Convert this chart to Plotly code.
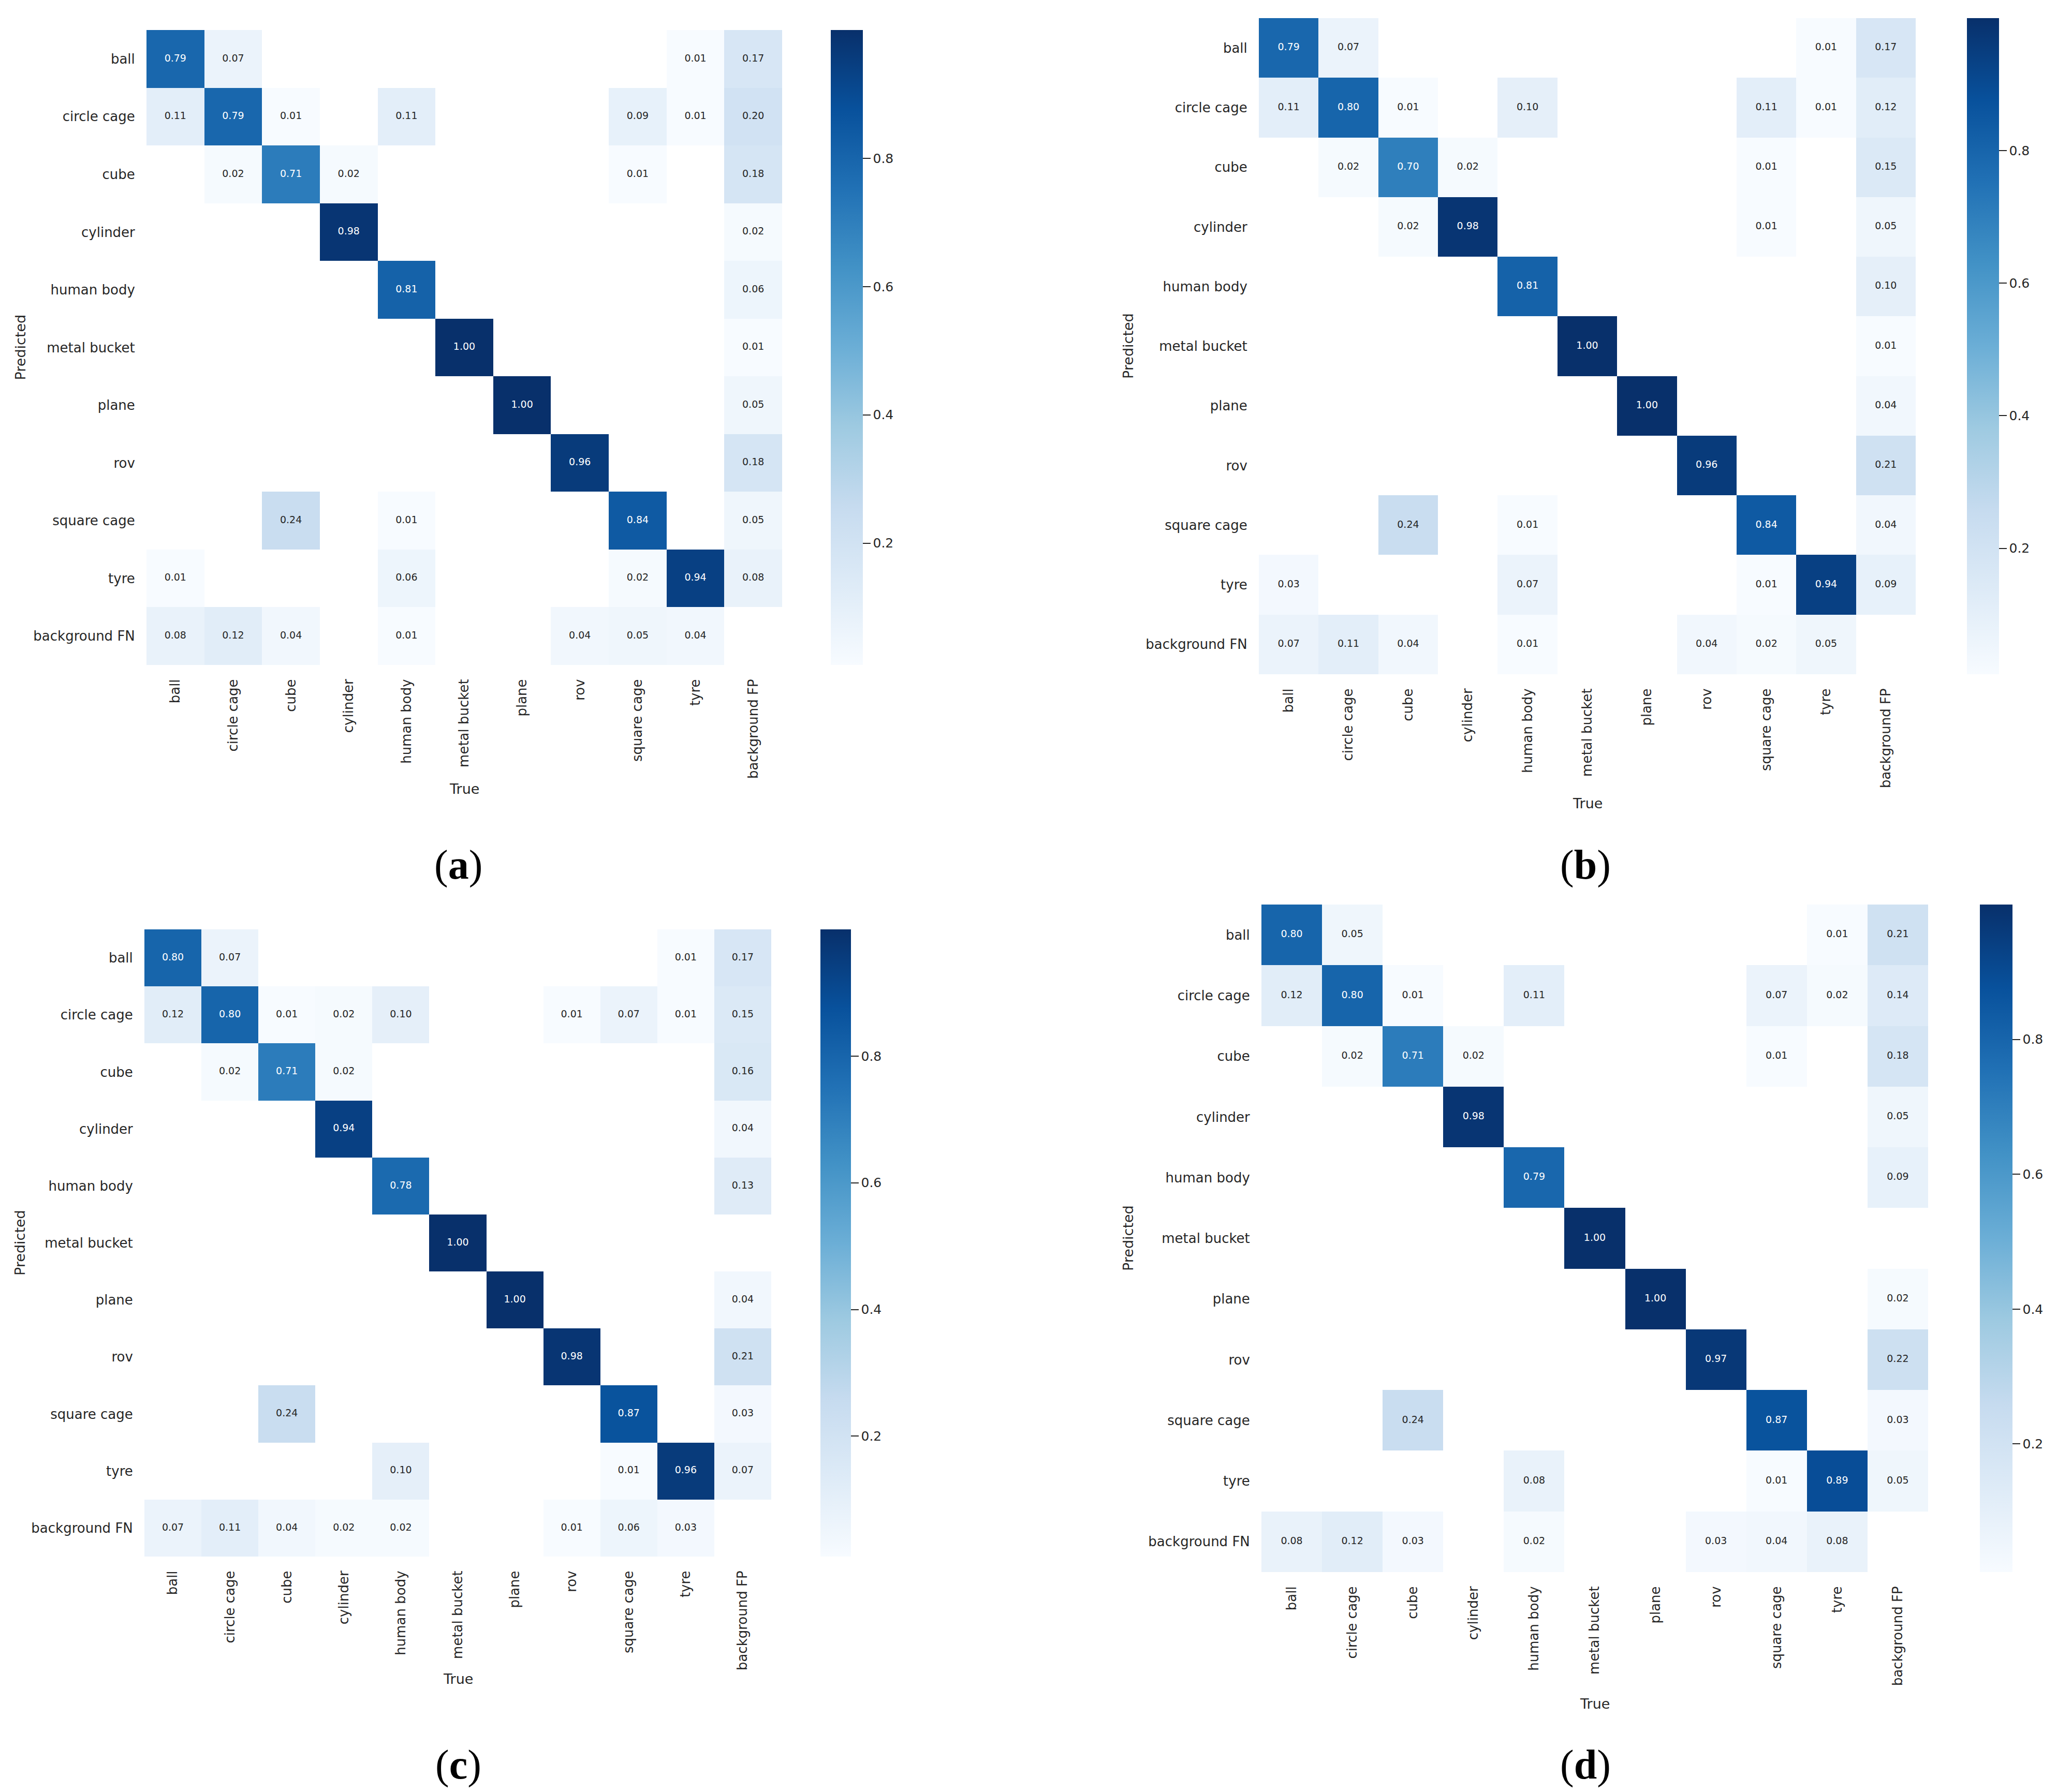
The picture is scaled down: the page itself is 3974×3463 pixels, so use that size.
import plotly.graph_objects as go

W, H = 3974, 3463

# class names (rows = predicted, columns = true)
classes_pred = ["ball", "circle cage", "cube", "cylinder", "human body", "metal bucket",
                "plane", "rov", "square cage", "tyre", "background FN"]
classes_true = ["ball", "circle cage", "cube", "cylinder", "human body", "metal bucket",
                "plane", "rov", "square cage", "tyre", "background FP"]
_ = None

cm_a = [
    [0.79, 0.07, _, _, _, _, _, _, _, 0.01, 0.17],
    [0.11, 0.79, 0.01, _, 0.11, _, _, _, 0.09, 0.01, 0.20],
    [_, 0.02, 0.71, 0.02, _, _, _, _, 0.01, _, 0.18],
    [_, _, _, 0.98, _, _, _, _, _, _, 0.02],
    [_, _, _, _, 0.81, _, _, _, _, _, 0.06],
    [_, _, _, _, _, 1.00, _, _, _, _, 0.01],
    [_, _, _, _, _, _, 1.00, _, _, _, 0.05],
    [_, _, _, _, _, _, _, 0.96, _, _, 0.18],
    [_, _, 0.24, _, 0.01, _, _, _, 0.84, _, 0.05],
    [0.01, _, _, _, 0.06, _, _, _, 0.02, 0.94, 0.08],
    [0.08, 0.12, 0.04, _, 0.01, _, _, 0.04, 0.05, 0.04, _],
]

cm_b = [
    [0.79, 0.07, _, _, _, _, _, _, _, 0.01, 0.17],
    [0.11, 0.80, 0.01, _, 0.10, _, _, _, 0.11, 0.01, 0.12],
    [_, 0.02, 0.70, 0.02, _, _, _, _, 0.01, _, 0.15],
    [_, _, 0.02, 0.98, _, _, _, _, 0.01, _, 0.05],
    [_, _, _, _, 0.81, _, _, _, _, _, 0.10],
    [_, _, _, _, _, 1.00, _, _, _, _, 0.01],
    [_, _, _, _, _, _, 1.00, _, _, _, 0.04],
    [_, _, _, _, _, _, _, 0.96, _, _, 0.21],
    [_, _, 0.24, _, 0.01, _, _, _, 0.84, _, 0.04],
    [0.03, _, _, _, 0.07, _, _, _, 0.01, 0.94, 0.09],
    [0.07, 0.11, 0.04, _, 0.01, _, _, 0.04, 0.02, 0.05, _],
]

cm_c = [
    [0.80, 0.07, _, _, _, _, _, _, _, 0.01, 0.17],
    [0.12, 0.80, 0.01, 0.02, 0.10, _, _, 0.01, 0.07, 0.01, 0.15],
    [_, 0.02, 0.71, 0.02, _, _, _, _, _, _, 0.16],
    [_, _, _, 0.94, _, _, _, _, _, _, 0.04],
    [_, _, _, _, 0.78, _, _, _, _, _, 0.13],
    [_, _, _, _, _, 1.00, _, _, _, _, _],
    [_, _, _, _, _, _, 1.00, _, _, _, 0.04],
    [_, _, _, _, _, _, _, 0.98, _, _, 0.21],
    [_, _, 0.24, _, _, _, _, _, 0.87, _, 0.03],
    [_, _, _, _, 0.10, _, _, _, 0.01, 0.96, 0.07],
    [0.07, 0.11, 0.04, 0.02, 0.02, _, _, 0.01, 0.06, 0.03, _],
]

cm_d = [
    [0.80, 0.05, _, _, _, _, _, _, _, 0.01, 0.21],
    [0.12, 0.80, 0.01, _, 0.11, _, _, _, 0.07, 0.02, 0.14],
    [_, 0.02, 0.71, 0.02, _, _, _, _, 0.01, _, 0.18],
    [_, _, _, 0.98, _, _, _, _, _, _, 0.05],
    [_, _, _, _, 0.79, _, _, _, _, _, 0.09],
    [_, _, _, _, _, 1.00, _, _, _, _, _],
    [_, _, _, _, _, _, 1.00, _, _, _, 0.02],
    [_, _, _, _, _, _, _, 0.97, _, _, 0.22],
    [_, _, 0.24, _, _, _, _, _, 0.87, _, 0.03],
    [_, _, _, _, 0.08, _, _, _, 0.01, 0.89, 0.05],
    [0.08, 0.12, 0.03, _, 0.02, _, _, 0.03, 0.04, 0.08, _],
]

panel_labels = ["a", "b", "c", "d"]
cbar_ticks = [0.2, 0.4, 0.6, 0.8]

# matplotlib "Blues"
blues = ["#f7fbff", "#deebf7", "#c6dbef", "#9ecae1", "#6baed6",
         "#4292c6", "#2171b5", "#08519c", "#08306b"]
colorscale = [[i / (len(blues) - 1), c] for i, c in enumerate(blues)]

# pixel geometry of each panel: heatmap box, colorbar, label positions
geom = [
    dict(l=275, r=1503, t=50, b=1277, cb=1597, cw=62, px=31, ty=1517, cx=877, cy=1663),
    dict(l=2424, r=3693, t=27, b=1295, cb=3792, cw=62, px=2171, ty=1544, cx=3055, cy=1663),
    dict(l=271, r=1482, t=1788, b=3000, cb=1577, cw=59, px=30, ty=3236, cx=877, cy=3402),
    dict(l=2429, r=3717, t=1740, b=3030, cb=3817, cw=63, px=2171, ty=3284, cx=3055, cy=3402),
]

TXT = "#262626"
FONT = "DejaVu Sans"

fig = go.Figure()
annotations = []

for k, (cm, g, lab) in enumerate(zip([cm_a, cm_b, cm_c, cm_d], geom, panel_labels)):
    n = k + 1
    xa = "x" if n == 1 else f"x{n}"
    ya = "y" if n == 1 else f"y{n}"
    flat = [v for row in cm for v in row if v is not None]

    fig.add_trace(go.Heatmap(
        z=cm, x=classes_true, y=classes_pred, xaxis=xa, yaxis=ya,
        colorscale=colorscale, zmin=min(flat), zmax=max(flat),
        hoverongaps=False,
        colorbar=dict(
            x=g["cb"] / W, xanchor="left", xpad=0,
            y=1 - g["t"] / H, yanchor="top", ypad=0,
            thickness=g["cw"], thicknessmode="pixels",
            len=g["b"] - g["t"], lenmode="pixels",
            outlinewidth=0,
            tickvals=cbar_ticks, ticktext=[f"{v:.1f}" for v in cbar_ticks],
            ticks="outside", ticklen=15, tickwidth=2, tickcolor=TXT,
            tickfont=dict(family=FONT, size=25, color=TXT),
        ),
    ))

    xs, ys, ts, cs = [], [], [], []
    for i, row in enumerate(cm):
        for j, v in enumerate(row):
            if v is None:
                continue
            xs.append(classes_true[j])
            ys.append(classes_pred[i])
            ts.append(f"{v:.2f}")
            cs.append("white" if v > 0.5 else TXT)
    fig.add_trace(go.Scatter(
        x=xs, y=ys, text=ts, mode="text", xaxis=xa, yaxis=ya,
        textfont=dict(family=FONT, size=19, color=cs),
        hoverinfo="skip", showlegend=False,
    ))

    xkey = "xaxis" if n == 1 else f"xaxis{n}"
    ykey = "yaxis" if n == 1 else f"yaxis{n}"
    fig.update_layout(**{
        xkey: dict(
            domain=[g["l"] / W, g["r"] / W], anchor=ya,
            type="category", categoryorder="array", categoryarray=classes_true,
            range=[-0.5, len(classes_true) - 0.5],
            tickangle=-90, showgrid=False, zeroline=False, showline=False,
            ticks="outside", ticklen=16, tickcolor="rgba(0,0,0,0)",
            tickfont=dict(family=FONT, size=26, color=TXT),
        ),
        ykey: dict(
            domain=[1 - g["b"] / H, 1 - g["t"] / H], anchor=xa,
            type="category", categoryorder="array", categoryarray=classes_pred,
            range=[len(classes_pred) - 0.5, -0.5],
            showgrid=False, zeroline=False, showline=False,
            ticks="outside", ticklen=16, tickcolor="rgba(0,0,0,0)",
            tickfont=dict(family=FONT, size=26, color=TXT),
        ),
    })

    annotations.append(dict(
        text="True", x=(g["l"] + g["r"]) / 2 / W, y=1 - g["ty"] / H,
        xref="paper", yref="paper", showarrow=False, xanchor="center", yanchor="middle",
        font=dict(family=FONT, size=27, color=TXT),
    ))
    annotations.append(dict(
        text="Predicted", x=g["px"] / W, y=1 - (g["t"] + g["b"]) / 2 / H,
        xref="paper", yref="paper", showarrow=False, textangle=-90,
        xanchor="center", yanchor="middle",
        font=dict(family=FONT, size=27, color=TXT),
    ))
    annotations.append(dict(
        text=f"(<b>{lab}</b>)", x=g["cx"] / W, y=1 - g["cy"] / H,
        xref="paper", yref="paper", showarrow=False, xanchor="center", yanchor="middle",
        font=dict(family="Liberation Serif", size=80, color="black"),
    ))

fig.update_layout(
    width=W, height=H,
    margin=dict(l=0, r=0, t=0, b=0),
    paper_bgcolor="white", plot_bgcolor="white",
    showlegend=False,
    annotations=annotations,
)

fig.write_html("out.html")
